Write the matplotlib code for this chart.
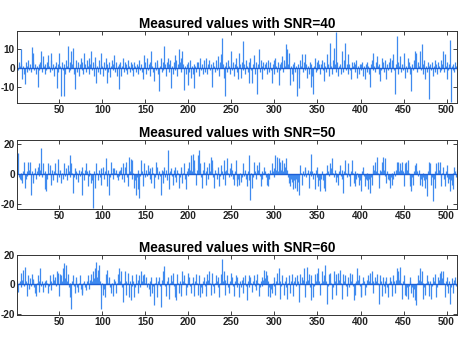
import matplotlib
matplotlib.use("Agg")
import matplotlib.pyplot as plt
import numpy as np

plt.rcParams['font.family'] = ['Liberation Sans', 'DejaVu Sans']
plt.rcParams['axes.unicode_minus'] = False

titles = ["Measured values with SNR=40", "Measured values with SNR=50", "Measured values with SNR=60"]
x_ticks = [50, 100, 150, 200, 250, 300, 350, 400, 450, 500]
y_ticks = [[-10, 0, 10], [-20, 0, 20], [-20, 0, 20]]

snr40 = [
 2,-1,3,1,10,2,-6,1,-3,-8.5,3,-2,1,4,-1,2,
 -2,11,3,8,-1,2,-3,1,-10,2,-1,3,9,-2,6.5,1,
 -3,2,-1,3,7,1,-2,4,8,-1,2,-4,1,3,-10.5,2,
 -2,8,1,-15,3,-1,2,-15,-3,4,1,11.5,-2,3,-1,9,
 2,10.5,-3,-11,1,4,-2,3,-4,2,5,-1,3,-3,8,2,
 -2,4,1,-3,5,2,9,-1,3,-4,2,6,-8,1,-2,4,
 -3,2,8,1,-4,3,-1,5,2,-8,-2,3,-5,1,4,-1,
 2,7,-2,3,-4,1,2,-11,3,-4,1,5,-2,3,-1,2,
 -3,4,1,-2,3,-1,2,-4,3,1,-2,2,-3,1,4,-1,
 2,-2,-6,1,7,3,-3,5,-1,2,-4,3,9,1,-2,-7,
 3,-1,4,2,-3,-12,1,5,-2,3,-1,11.5,2,-4,3,5.5,
 -2,2,4,-10.5,1,-3,3,7,-1,4,-4,2,10,3,-2,5,
 9,2,-11.5,1,-3,2,-9,3,-2,4,-5.5,1,-3,2,-10.5,1,
 -2,3,3,-4,1,5,-1,2,-3,4,-2,5,1,-3,2,4,
 -1,2,-3,-10,3,1,-2,4,-1,6.5,2,-4,3,7.5,16,2,
 -5.5,1,-15,3,-2,4,1,-3,9,2,-1,3,-4,2,5,-2,
 1,-6,8,2,-5.5,3,-1,14,2,-3,4,1,-2,-8,3,5,
 -1,-8,2,7,-3,3,1,-14,2,10,-2,4,1,-6,3,-1,
 2,3,-3,1,4,-2,3,-1,-8,2,4,-3,5,1,-2,3,
 -9,2,-1,3,6.5,-2,4,1,12.5,3,10,2,8,-9,1,-3,
 2,-7,3,-2,1,-15,2,-10.5,-3,4,1,7.5,-2,3,-1,7.5,
 2,-5.5,1,-3,3,-10,2,-4,-14,1,5.5,-2,3,-1,4,2,
 -3,2,4,-1,-7,3,1,-2,7.5,2,-4,3,13,1,-3,4,
 10.5,2,19,-2,3,-4,1,2,-3,9,1,-2,4,13,-1,2,
 -3,7.5,2,-1,-6,3,1,3,-2,2,4,-5.5,1,-3,2,2,
 -1,3,-4,1,-6,2,-2,3,1,-3,-10,2,4,-1,8,1,
 -2,3,6.5,1,-3,2,-7,-1,5,3,-2,4,1,-6,2,-1,
 3,5.5,-2,1,4,7.5,-1,-14,2,17,-3,3,1,6.5,-2,2,
 -1,8,2,-5.5,1,-2,5.5,3,-3,1,-12,2,-1,4,9,2,
 8,-2,3,1,9,-1,12.5,2,-3,4,-6,1,-2,3,-16.5,1,
 2,-1,3,-4.5,1,-2,4,2,-3,3,1,-2,4,-1,2,9,
 -2,7.5,1,-6,3,-1,2,15,-18,1,2,-1,-2,3,1,-1,
]

snr50 = [
 3,14,-2,-3.5,1,-4,-6,2,8,-9,-3,2,-1,8,3,8,
 -13.5,2,-2,-6,1,4,-3,2,5,-1,7,3,17,-2,7,1,
 -10,2,-11,-3,7,1,6,-2,-7,3,-4,2,7,1,-5,3,
 10,-2,3,-6,1,-3,2,7,-1,4,-4,6,2,12.5,-2,7,
 1,-12.5,-2,4,2,-3,1,-5,3,-1,2,5,-13.5,1,-4,3,
 7,2,-8,-1,3,1,-6,-4,-22.5,2,-9,-2,7,1,-4,3,
 -2,4,-7,1,5,-3,2,10.5,-1,-8,3,-13.5,-2,8,1,4,
 -3,4,1,3,-2,-4,2,-1,3,5,-3,7,-5,5,1,8,
 -2,-8,11.5,2,10,-3,9,1,-9,-4,-13.5,-2,-10,3,-15.5,-1,
 9,2,-8,1,7,-2,3,-1,6,2,-3,4,-6,5,1,-9,
 -2,8,1,5,-3,2,-1,-13.5,3,-6,2,5,-2,3,-4,16,
 1,-10,2,4,-1,-7,3,5,-2,-5,3,1,-9,-2,5,2,
 -6,1,7,-3,-10,2,4,-1,8,3,12.5,2,13.5,4,9.5,1,
 -7,3,12.5,16,2,7,-2,-9,3,8,1,-7,2,5,-3,7,
 2,11.5,4,9.5,-2,-9,3,1,-3,5,2,-8,-1,6,2,-3,
 9.5,2,-7,3,10.5,1,-2,4,7,-1,3,-3,-7,2,9.5,-4,
 -8,-3,-7,1,-5,-2,2,7,-1,3,-3,-8,2,12.5,-4,-17,
 1,-9,-2,8,2,-3,1,6,3,8,-1,-8,2,-3,1,5,
 2,-2,-7,1,-8,-3,3,1,7,2,-2,4,12.5,3,11.5,2,
 10.5,4,8,3,9.5,2,7,5,10.5,1,3,-2,-6,-8,-3,-5,
 -2,-10,-4,-9,-3,-11,-5,-13.5,-2,6,1,-7,2,-1,3,5,
 -2,1,3,-9,2,-1,13.5,2,-3,1,-10,3,5,-2,-8,-4,
 -11,-3,2,-4,-9,-2,-11,1,6,2,-1,3,7,4,10.5,1,
 -2,3,-5,1,-2,-7,2,6,-1,3,-3,-12.5,2,9.5,1,-2,
 3,7,-1,-8,2,9,1,-6,2,-8,-3,1,-2,-7,-4,-11,
 -2,2,5,-1,-8,-3,1,-4,-10,-3,-12.5,-2,-7,2,6,3,
 8,2,11.5,1,-9,-2,3,2,8,11.5,3,10.5,-1,-6,2,-3,
 -4,-9,-2,-7,1,-3,2,-1,3,8,4,8,2,7,3,8,
 2,-8,1,7,8,3,9,1,-8,-3,-11,-2,-7,2,6,3,
 7,2,-1,3,-7,-3,-8,1,-2,-4,-9,-3,-14.5,2,8,3,
 7,-7,-2,-18,-3,-9,2,7,1,8,3,8,-2,-8,1,5,
 -3,-8,2,6,-2,-6,-3,-11,-4,-7,1,-10,5,2,-2,3,
]

snr60 = [
 2,-5,1,2.5,-2,8,3,10,-1,12,2,-8,1,6,-3,4.5,
 -1,7,2,3.5,-2,-6,-8,1,6,2,-5,11,-1,2,-5,1,
 2.5,-2,3,1,-6,-1,6,2,-4,1,7,3,5,-1,9,2,
 8,-8,7,6,2,11,3,14.5,4,13,2,7,-2,-9,1,-17,
 2,6,-1,-6,3,5,-2,-5,1,6,-3,-6,-7,1,2.5,-2,
 -4,2,6,1,-3,3,7,2,9,4,11,3,15.5,5,10,13,
 2,-17,-2,1,-7,-3,-9,7,2,10,1,5,-2,-6,1,-8,
 -1,3.5,2,-6,1,7,3,11,2,9,-2,-12,1,9,2,-7,
 1,8,-9,2,-11,-1,6,2,-9,-2,7,1,-6,3,6,-2,
 9,2,6,3,7,1,5,-2,1,-3,-8,2,5,-6,-1,-14.5,
 1,5,-2,-9,2,5,-1,-15.5,3,9,2,12.5,-1,-8,2,5,
 -2,-10,1,6,2,8,-1,-9,-3,-11,7,1,-6,2,-8,-2,
 9,2,6,1,-7,-2,8,3,5,-1,-6,1,5,-2,-8,2,
 7,1,-7,6,-1,-9,-2,-6,2,5,-1,-8,2,7,3,9,
 1,-7,2,8,-1,-6,1,6,2,5,-2,-9,1,7,17,2,
 9,3,-7,1,6,-2,-6,2,8,1,5,-1,-8,2,6,-2,
 5,1,-9,2,-2,3,5,-6,1,6,-1,-11,2,6,-2,5,
 1,-5,2,6,-1,-4,3,7,1,-8,-2,2,-1,5,3,10,
 4,9,6,2,-8,-2,-9,-3,-6,1,5,-1,-7,2,8,1,
 11,2,-10,-1,6,1,-7,2,5,-2,-10,1,6,-6,2,7,
 1,-8,2,5,-1,6,2,-12,-2,7,1,5,3,11,-1,-9,
 2,12,3,7,-2,-11,6,1,-9,-1,7,2,8,3,11,2,
 -7,1,9,2,6,3,13,2,-13.5,-1,7,2,8,1,-10,-2,
 9,2,7,-7,1,8,3,10,1,-10,-2,7,2,6,-1,-8,
 1,5,-2,8,2,7,-1,-11,1,-7,2,11,3,6,-1,-9,
 -8,1,5,2,-7,-2,1,3,6,2,8,1,9,2,-6,1,
 5,2,7,1,-13.5,-1,6,2,-8,5,-1,-6,2,5,-2,-9,
 1,5,2,-8,-1,6,2,-6,3,11,4,9,3,12,1,-10,
 2,6,1,-7,-8,-2,-10,-1,5,2,-6,-2,-9,-3,-11,-2,
 -14.5,1,6,3,11,2,9,1,-10,-2,-7,1,6,2,-8,-1,
 2,-10,-1,5,2,7,1,-9,-2,5,3,8,2,9,4,9,
 1,-9,2,5,-1,-6,2,-13.5,-2,4,-6,1,3,5,-1,2,
]

series = [snr40, snr50, snr60]
ylims = [(-18.5, 19.5), (-23, 22.5), (-21, 17)]
positions = [
    [0.036, 0.7099, 0.928, 0.2028],
    [0.036, 0.4113, 0.928, 0.1944],
    [0.036, 0.1127, 0.928, 0.1690],
]

stem_color = '#3f8aef'
base_color = '#1c5fd6'

fig = plt.figure(figsize=(4.74, 3.55), dpi=100)
for k in range(3):
    ax = fig.add_axes(positions[k])
    vals = np.array(series[k], dtype=float)
    idx = np.arange(1, len(vals) + 1)
    ax.vlines(idx, 0, vals, colors=stem_color, linewidth=0.9)
    ax.axhline(0, color=base_color, linewidth=1.0)
    ax.set_xlim(1, len(vals))
    ax.set_ylim(*ylims[k])
    ax.set_xticks(x_ticks)
    ax.set_yticks(y_ticks[k])
    ax.tick_params(direction='in', top=True, right=True, length=3, width=0.6,
                   labelsize=7.2, pad=1.5, colors='#222222')
    for lab in ax.get_xticklabels() + ax.get_yticklabels():
        lab.set_fontweight('bold')
    for sp in ax.spines.values():
        sp.set_linewidth(0.7)
        sp.set_color('#333333')
    ax.set_title(titles[k], fontsize=9.8, fontweight='bold', pad=2)

fig.savefig("out.png", dpi=100)
